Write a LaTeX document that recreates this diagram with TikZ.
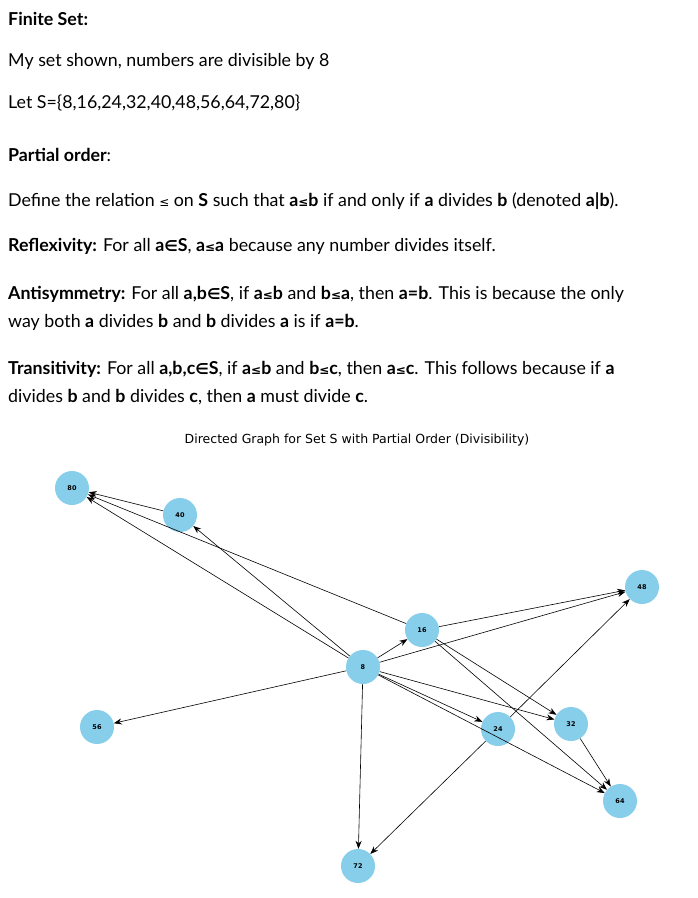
\documentclass[tikz,border=0pt]{standalone}
\usepackage{fontspec}
\setmainfont{Lato}
\newfontfamily\gfont{DejaVu Sans}
\usetikzlibrary{arrows.meta}
\newcommand{\myle}{{\gfont\fontsize{12}{12}\selectfont ≤}}
\newcommand{\inn}{{\gfont\fontsize{15}{15}\selectfont ∈}}
\begin{document}
\begin{tikzpicture}[x=1pt,y=-1pt,
  txt/.style={anchor=base west,inner sep=0pt,font=\fontsize{17.8}{20}\selectfont},
  vert/.style={circle,fill={rgb,255:red,135;green,206;blue,235},minimum size=34pt,inner sep=0pt,font=\gfont\bfseries\fontsize{6.5}{7}\selectfont},
  edge/.style={-{Stealth[length=8pt,width=6pt]},black,line width=0.6pt}]
\useasboundingbox[fill=white] (0,0) rectangle (697,898);
\node[txt] (t1) at (8,25) {\textbf{Finite Set:}};
\node[txt] (t2) at (8,66) {My set shown, numbers are divisible by 8};
\node[txt] (t3) at (8,108) {Let S=\{8,16,24,32,40,48,56,64,72,80\}};
\node[txt] (t4) at (8,161) {\textbf{Partial order}:};
\node[txt] (t5) at (8,206) {Define the relation \myle{} on \textbf{S} such that \textbf{a\myle b} if and only if \textbf{a} divides \textbf{b} (denoted \textbf{a|b}).};
\node[txt] (t6) at (8,251) {\textbf{Reflexivity:} For all \textbf{a\inn S}, \textbf{a\myle a} because any number divides itself.};
\node[txt] (t7) at (8,299) {\textbf{Antisymmetry:} For all \textbf{a,b\inn S}, if \textbf{a\myle b} and \textbf{b\myle a}, then \textbf{a=b}. This is because the only};
\node[txt] (t8) at (8,327) {way both \textbf{a} divides \textbf{b} and \textbf{b} divides \textbf{a} is if \textbf{a=b}.};
\node[txt] (t9) at (8,374) {\textbf{Transitivity:} For all \textbf{a,b,c\inn S}, if \textbf{a\myle b} and \textbf{b\myle c}, then \textbf{a\myle c}. This follows because if \textbf{a}};
\node[txt] (t10) at (8,402) {divides \textbf{b} and \textbf{b} divides \textbf{c}, then \textbf{a} must divide \textbf{c}.};
\node[font=\gfont\fontsize{12.5}{14}\selectfont] (title) at (357,440) {Directed Graph for Set S with Partial Order (Divisibility)};
\node[vert] (n80) at (72,488) {80};
\node[vert] (n40) at (180,515) {40};
\node[vert] (n48) at (642,587) {48};
\node[vert] (n16) at (422,630) {16};
\node[vert] (n8) at (363,667) {8};
\node[vert] (n56) at (97,727) {56};
\node[vert] (n24) at (498,729) {24};
\node[vert] (n32) at (571,724) {32};
\node[vert] (n64) at (620,801) {64};
\node[vert] (n72) at (358,866) {72};
\foreach \a/\b in {8/80,8/40,8/16,8/56,8/24,8/32,8/64,8/72,8/48,16/80,16/48,16/32,16/64,24/48,24/72,32/64,40/80}
  \draw[edge] (n\a) -- (n\b);
\end{tikzpicture}
\end{document}
